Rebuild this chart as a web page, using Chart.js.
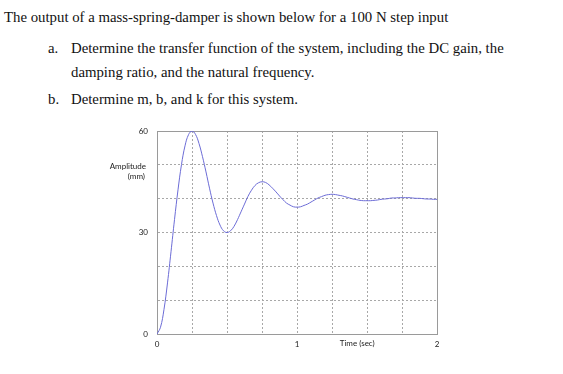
<!DOCTYPE html>
<html>
<head>
<meta charset="utf-8">
<script src="https://cdn.jsdelivr.net/npm/chart.js@4"></script>
<style>
  html, body { margin: 0; padding: 0; background: #fff; }
  #page { position: relative; width: 563px; height: 374px; overflow: hidden; font-family: 'Liberation Serif', 'Times New Roman', serif; color: #111; }
  .ln { position: absolute; font-size: 14.8px; line-height: 15px; white-space: nowrap; }
  #box { position: absolute; left: 0; top: 115px; width: 563px; height: 259px; }
</style>
</head>
<body>
<div id="page">
  <div class="ln" style="left:4px; top:10px;">The output of a mass-spring-damper is shown below for a 100 N step input</div>
  <div class="ln" style="left:48px; top:41px;">a.</div>
  <div class="ln" style="left:71px; top:41px;">Determine the transfer function of the system, including the DC gain, the</div>
  <div class="ln" style="left:71px; top:65px;">damping ratio, and the natural frequency.</div>
  <div class="ln" style="left:48px; top:92px;">b.</div>
  <div class="ln" style="left:71px; top:92px;">Determine m, b, and k for this system.</div>
  <div id="box"><canvas id="myChart" width="563" height="259"></canvas></div>
</div>
<script>
// time in seconds, amplitude in mm
let times = [
  0, 0.025, 0.05, 0.075, 0.1, 0.125, 0.15, 0.175, 0.2, 0.225,
  0.25, 0.275, 0.3, 0.325, 0.35, 0.375, 0.4, 0.425, 0.45, 0.475,
  0.5, 0.525, 0.55, 0.575, 0.6, 0.625, 0.65, 0.675, 0.7, 0.725,
  0.75, 0.775, 0.8, 0.825, 0.85, 0.875, 0.9, 0.925, 0.95, 0.975,
  1, 1.025, 1.05, 1.075, 1.1, 1.125, 1.15, 1.175, 1.2, 1.225,
  1.25, 1.275, 1.3, 1.325, 1.35, 1.375, 1.4, 1.425, 1.45, 1.475,
  1.5, 1.525, 1.55, 1.575, 1.6, 1.625, 1.65, 1.675, 1.7, 1.725,
  1.75, 1.775, 1.8, 1.825, 1.85, 1.875, 1.9, 1.925, 1.95, 1.975,
  2
];
let amplitude = [
  0, 2.0, 7.3, 15.1, 24.3, 33.8, 42.6, 50.1, 55.6, 58.9,
  60.0, 59.0, 56.3, 52.4, 47.9, 43.1, 38.7, 35.0, 32.2, 30.5,
  30.0, 30.5, 31.8, 33.8, 36.1, 38.4, 40.7, 42.5, 43.9, 44.7,
  45.0, 44.8, 44.1, 43.1, 42.0, 40.8, 39.7, 38.7, 38.1, 37.6,
  37.5, 37.6, 38.0, 38.4, 39.0, 39.6, 40.2, 40.6, 41.0, 41.2,
  41.3, 41.2, 41.0, 40.8, 40.5, 40.2, 39.9, 39.7, 39.5, 39.4,
  39.4, 39.4, 39.5, 39.6, 39.8, 39.9, 40.0, 40.2, 40.2, 40.3,
  40.3, 40.3, 40.3, 40.2, 40.1, 40.1, 40.0, 39.9, 39.9, 39.8,
  39.8
];
let yLabels = [0, 30, 60];
let xLabels = [0, 1, 2];
let yTitle = ['Amplitude', '(mm)'];
let xTitle = 'Time (sec)';

let tickFont = { family: 'Lato', size: 8 };
let gridColor = '#a8a8a8';
let frameColor = '#9a9a9a';

let extras = {
  id: 'extras',
  beforeDatasetsDraw(chart) {
    let a = chart.chartArea;
    let c = chart.ctx;
    c.save();
    c.strokeStyle = frameColor;
    c.lineWidth = 1;
    c.strokeRect(a.left + 0.5, a.top + 0.5, a.right - a.left, a.bottom - a.top);
    c.restore();
  },
  afterDraw(chart) {
    let c = chart.ctx;
    let x = chart.scales.x, y = chart.scales.y;
    c.save();
    c.font = '8px Lato';
    c.fillStyle = '#222';
    c.textBaseline = 'middle';
    c.textAlign = 'right';
    c.fillText(yTitle[0], chart.chartArea.left - 11, y.getPixelForValue(49.4));
    c.fillText(yTitle[1], chart.chartArea.left - 12, y.getPixelForValue(46.5));
    c.textAlign = 'center';
    c.fillText(xTitle, x.getPixelForValue(1.43), chart.chartArea.bottom + 9);
    c.restore();
  }
};

let ctx = document.getElementById('myChart').getContext('2d');
let myChart = new Chart(ctx, {
  type: 'line',
  data: {
    labels: times,
    datasets: [{
      data: amplitude,
      borderColor: '#6c6cd6',
      borderWidth: 1,
      pointRadius: 0,
      tension: 0.4,
      fill: false
    }]
  },
  options: {
    responsive: false,
    animation: false,
    layout: { padding: { left: 0, right: 126, top: 16, bottom: 0 } },
    plugins: { legend: { display: false }, tooltip: { enabled: false } },
    scales: {
      x: {
        type: 'linear',
        min: 0, max: 2,
        afterFit: s => { s.height = 40; },
        ticks: {
          stepSize: 0.25, autoSkip: false, maxRotation: 0, padding: 6,
          font: tickFont, color: '#222',
          callback: v => xLabels.includes(v) ? String(v) : ''
        },
        grid: { color: gridColor, drawTicks: false },
        border: { color: frameColor, dash: [2, 2] }
      },
      y: {
        min: 0, max: 60,
        afterFit: s => { s.width = 157; },
        ticks: {
          stepSize: 10, autoSkip: false, padding: 9,
          font: tickFont, color: '#222',
          callback: v => yLabels.includes(v) ? String(v) : ''
        },
        grid: { color: gridColor, drawTicks: false },
        border: { color: frameColor, dash: [2, 2] }
      }
    }
  },
  plugins: [extras]
});
</script>
</body>
</html>
